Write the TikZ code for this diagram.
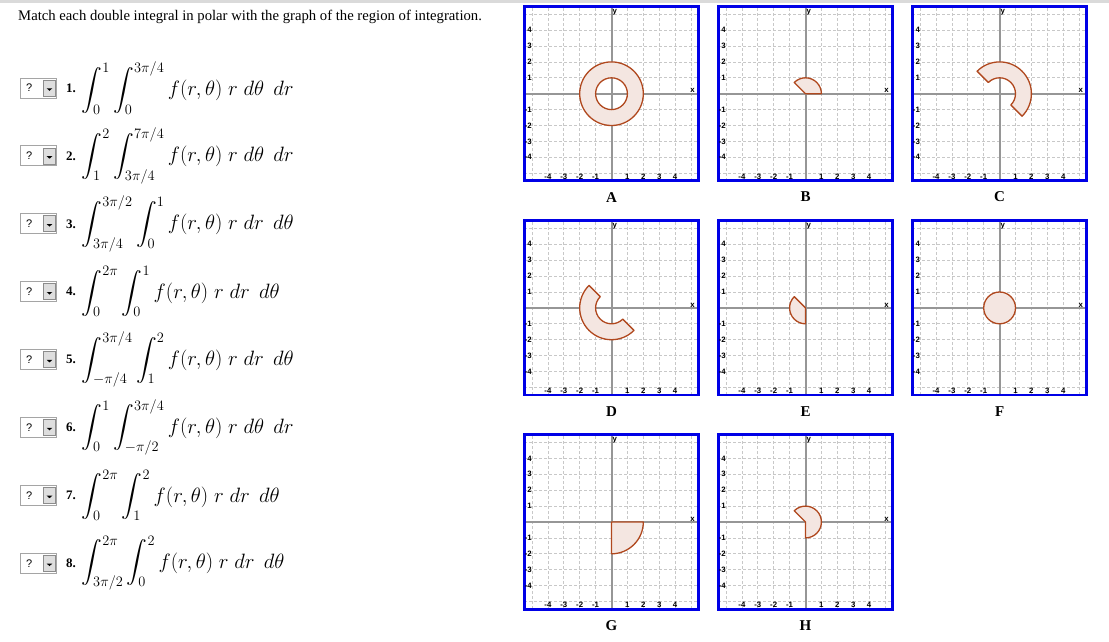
\documentclass[tikz,border=0pt]{standalone}
\usepackage{amsmath}
\usepackage[no-math]{fontspec}
\setmainfont{Liberation Serif}
\setsansfont{Liberation Sans}
\DeclareMathSizes{20}{20}{15.5}{11.5}
\definecolor{pborder}{RGB}{0,0,230}
\definecolor{pgrid}{RGB}{200,200,200}
\definecolor{paxis}{RGB}{150,150,150}
\definecolor{rfill}{RGB}{244,230,225}
\definecolor{rdraw}{RGB}{176,72,30}
\definecolor{topbar}{RGB}{218,218,218}
\definecolor{ddframecol}{RGB}{165,165,165}
\definecolor{ddbtncol}{RGB}{222,222,222}
\definecolor{ddbtnframe}{RGB}{140,140,140}
\tikzset{
  gridline/.style={draw=pgrid, line width=0.8pt, dash pattern=on 3pt off 2pt},
  axisline/.style={draw=paxis, line width=2pt},
  region/.style={fill=rfill, draw=rdraw, line width=1.3pt, line join=round},
  panelframe/.style={draw=pborder, line width=2.8pt},
  ticklab/.style={inner sep=0pt, font=\fontsize{7.8}{8}\sffamily\bfseries},
  panelletter/.style={inner sep=0pt, font=\fontsize{15}{16}\selectfont\bfseries},
  ddframe/.style={draw=ddframecol, fill=white, line width=1pt},
  ddbtn/.style={draw=ddbtnframe, fill=ddbtncol, line width=0.8pt},
  qmark/.style={inner sep=0pt, font=\fontsize{11}{12}\sffamily},
  qnum/.style={inner sep=0pt, anchor=west, font=\fontsize{13}{14}\selectfont\bfseries},
  qint/.style={inner sep=0pt, anchor=west, font=\fontsize{20}{24}\selectfont},
  titletext/.style={inner sep=0pt, anchor=base west, font=\fontsize{14.7}{16}\selectfont}
}
\newcommand\graphpanel[4]{%
\begin{scope}[shift={(#2,#3)}, x=15.9pt, y=15.9pt]
  \foreach \k in {-5,...,5}{
    \draw[gridline] (\k,-5.48) -- (\k,5.48);
    \draw[gridline] (-5.48,\k) -- (5.48,\k);}
  \draw[axisline] (-5.48,0) -- (5.48,0);
  \draw[axisline] (0,-5.48) -- (0,5.48);
  \path[region] #4;
  \draw[panelframe] (-5.48,-5.48) rectangle (5.48,5.48);
  \foreach \k in {-4,-3,-2,-1,1,2,3,4}{
    \node[ticklab] (#1-x\k) at (\k,-5.22) {\k};
    \node[ticklab, anchor=east] (#1-y\k) at (-5.0,\k) {\k};}
  \node[ticklab] (#1-xl) at (5.1,0.18) {x};
  \node[ticklab] (#1-yl) at (0.2,5.12) {y};
  \node[panelletter] (#1) at (0,-6.5) {#1};
\end{scope}}
\newcommand\qrow[3]{%
  \draw[ddframe] (20.5,#2-10) rectangle (56.5,#2+10);
  \node[qmark] (q#1) at (29.3,#2) {?};
  \draw[ddbtn] (43.5,#2-8) rectangle (55.5,#2+8);
  \fill (46.7,#2+0.3) -- (52.3,#2+0.3) -- (49.5,#2+2.8) -- cycle;
  \node[qnum] (n#1) at (66,#2) {#1.};
  \node[qint] (i#1) at (81.5,#2) {$\displaystyle #3$};
}
\begin{document}
\begin{tikzpicture}[x=1pt, y=-1pt]
\useasboundingbox (0,0) rectangle (1109,641);
\fill[topbar] (0,0) rectangle (1109,2.6);
\node[titletext] (title) at (18,20) {Match each double integral in polar with the graph of the region of integration.};
\qrow{1}{88}{\int_0^1 \int_0^{3\pi/4} f(r,\theta)\;r\;d\theta\;\,dr}
\qrow{2}{155.9}{\int_1^2 \int_{3\pi/4}^{7\pi/4} f(r,\theta)\;r\;d\theta\;\,dr}
\qrow{3}{223.8}{\int_{3\pi/4}^{3\pi/2} \int_0^1 f(r,\theta)\;r\;dr\;\,d\theta}
\qrow{4}{291.7}{\int_0^{2\pi} \int_0^1 f(r,\theta)\;r\;dr\;\,d\theta}
\qrow{5}{359.6}{\int_{-\pi/4}^{3\pi/4} \int_1^2 f(r,\theta)\;r\;dr\;\,d\theta}
\qrow{6}{427.5}{\int_0^1 \int_{-\pi/2}^{3\pi/4} f(r,\theta)\;r\;d\theta\;\,dr}
\qrow{7}{495.4}{\int_0^{2\pi} \int_1^2 f(r,\theta)\;r\;dr\;\,d\theta}
\qrow{8}{563.3}{\int_{3\pi/2}^{2\pi} \int_0^2 f(r,\theta)\;r\;dr\;\,d\theta}
% panels
\graphpanel{A}{611.5}{93.7}{[even odd rule] (0,0) circle[radius=2] (0,0) circle[radius=1]}
\graphpanel{B}{805.5}{93.7}{(0,0) -- (0:1) arc[start angle=0, end angle=135, radius=1] -- cycle}
\graphpanel{C}{999.6}{93.7}{(-45:2) arc[start angle=-45, end angle=135, radius=2] -- (135:1) arc[start angle=135, end angle=-45, radius=1] -- cycle}
\graphpanel{D}{611.5}{307.9}{(135:2) arc[start angle=135, end angle=315, radius=2] -- (315:1) arc[start angle=315, end angle=135, radius=1] -- cycle}
\graphpanel{E}{805.5}{307.9}{(0,0) -- (135:1) arc[start angle=135, end angle=270, radius=1] -- cycle}
\graphpanel{F}{999.6}{307.9}{(0,0) circle[radius=1]}
\graphpanel{G}{611.5}{522}{(0,0) -- (270:2) arc[start angle=270, end angle=360, radius=2] -- cycle}
\graphpanel{H}{805.5}{522}{(0,0) -- (-90:1) arc[start angle=-90, end angle=135, radius=1] -- cycle}
\end{tikzpicture}
\end{document}
